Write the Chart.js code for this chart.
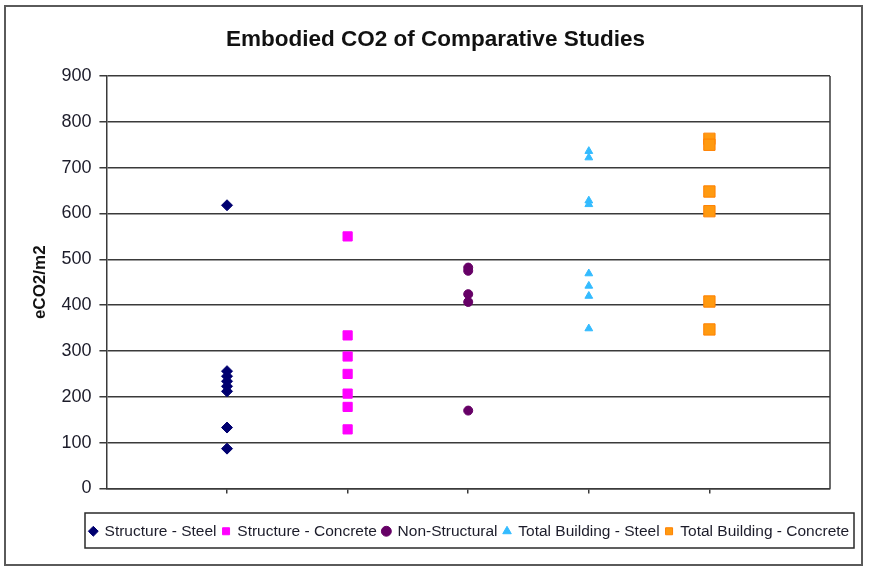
<!DOCTYPE html>
<html>
<head>
<meta charset="utf-8">
<script src="https://cdn.jsdelivr.net/npm/chart.js@4.4.1/dist/chart.umd.min.js"></script>
<style>
  html, body { margin: 0; padding: 0; background: #fff; }
  #wrap { width: 870px; height: 572px; }
</style>
</head>
<body>
<div id="wrap"><canvas id="co2Chart" width="870" height="572"></canvas></div>
<script>
// category positions on the x axis (one column per study type)
const categoryX = [1, 2, 3, 4, 5];
const seriesNames = [
  "Structure - Steel",
  "Structure - Concrete",
  "Non-Structural",
  "Total Building - Steel",
  "Total Building - Concrete"
];

// values (eCO2/m2)
const structureSteel = [618, 256, 245, 234, 223, 212, 133, 87];
const structureConcrete = [550, 334, 288, 250, 207, 178, 129];
const nonStructural = [482, 475, 424, 407, 170];
const totalSteel = [736, 722, 628, 620, 469, 442, 420, 349];
const totalConcrete = [763, 750, 648, 605, 408, 347];

const yTicks = [0, 100, 200, 300, 400, 500, 600, 700, 800, 900];

const FONT = "'Liberation Sans', Arial, sans-serif";
const INK = "#1c1c2a";

function column(values, i) {
  return values.map(v => ({ x: categoryX[i], y: v }));
}

// frame around the whole chart, the legend box and the right edge of the plot
const framePlugin = {
  id: "frames",
  afterLayout(chart) {
    // the legend in the original sits lower and a bit right of centre
    const lg = chart.legend;
    lg.left += 41;
    lg.right += 41;
    lg.top += 24;
    lg.bottom += 24;
    // title is centred on the whole canvas, not the padded box
    const tt = chart.titleBlock;
    tt.left += 7;
    tt.right += 7;
  },
  afterDraw(chart) {
    const ctx = chart.ctx;
    const area = chart.chartArea;
    ctx.save();
    ctx.strokeStyle = "#5a5a5a";
    ctx.lineWidth = 2;
    ctx.strokeRect(5, 6, 857, 559);

    ctx.strokeStyle = "#2a2a2a";
    ctx.lineWidth = 1.5;
    ctx.strokeRect(85, 513, 769, 35);

    ctx.strokeStyle = "#3a3a3a";
    ctx.beginPath();
    ctx.moveTo(area.right, area.top);
    ctx.lineTo(area.right, area.bottom);
    ctx.stroke();
    ctx.restore();
  }
};

const ctx = document.getElementById("co2Chart").getContext("2d");
new Chart(ctx, {
  type: "scatter",
  data: {
    datasets: [
      {
        label: seriesNames[0],
        data: column(structureSteel, 0),
        pointStyle: "rectRot",
        radius: 5.5,
        backgroundColor: "#000070",
        borderColor: "#000070",
        borderWidth: 1
      },
      {
        label: seriesNames[1],
        data: column(structureConcrete, 1),
        pointStyle: "rect",
        radius: 6.5,
        backgroundColor: "#ff00ff",
        borderColor: "#ff00ff",
        borderWidth: 1
      },
      {
        label: seriesNames[2],
        data: column(nonStructural, 2),
        pointStyle: "circle",
        radius: 4.5,
        backgroundColor: "#660066",
        borderColor: "#660066",
        borderWidth: 1
      },
      {
        label: seriesNames[3],
        data: column(totalSteel, 3),
        pointStyle: "triangle",
        radius: 4.5,
        backgroundColor: "#33bbff",
        borderColor: "#33bbff",
        borderWidth: 1
      },
      {
        label: seriesNames[4],
        data: column(totalConcrete, 4),
        pointStyle: "rect",
        radius: 8,
        backgroundColor: "#ff9a10",
        borderColor: "#ff8000",
        borderWidth: 1
      }
    ]
  },
  options: {
    responsive: false,
    animation: false,
    layout: {
      padding: { top: 12, left: 27, right: 40, bottom: 47 }
    },
    plugins: {
      title: {
        display: true,
        text: "Embodied CO2 of Comparative Studies",
        color: "#111",
        font: { family: FONT, size: 22.5, weight: "bold" },
        padding: { top: 14, bottom: 23 }
      },
      legend: {
        position: "bottom",
        labels: {
          usePointStyle: true,
          boxWidth: 7,
          boxHeight: 7,
          padding: 6,
          color: INK,
          font: { family: FONT, size: 15.5 }
        }
      },
      tooltip: { enabled: false }
    },
    scales: {
      x: {
        type: "linear",
        min: 0,
        max: 6,
        afterBuildTicks(scale) {
          scale.ticks = categoryX.map(v => ({ value: v }));
        },
        ticks: { display: false },
        grid: {
          drawOnChartArea: false,
          drawTicks: true,
          tickLength: 5,
          color: "#3a3a3a",
          lineWidth: 1.5
        },
        border: { display: true, color: "#3a3a3a", width: 1.5 }
      },
      y: {
        min: 0,
        max: 900,
        afterBuildTicks(scale) {
          scale.ticks = yTicks.map(v => ({ value: v }));
        },
        ticks: {
          color: INK,
          padding: 8,
          font: { family: FONT, size: 18 }
        },
        grid: {
          color: "#3a3a3a",
          lineWidth: 1.5,
          tickLength: 7
        },
        border: { display: true, color: "#3a3a3a", width: 1.5 },
        title: {
          display: true,
          text: "eCO2/m2",
          color: "#111",
          font: { family: FONT, size: 17, weight: "bold" },
          padding: { top: 3, bottom: 3 }
        }
      }
    }
  },
  plugins: [framePlugin]
});
</script>
</body>
</html>
